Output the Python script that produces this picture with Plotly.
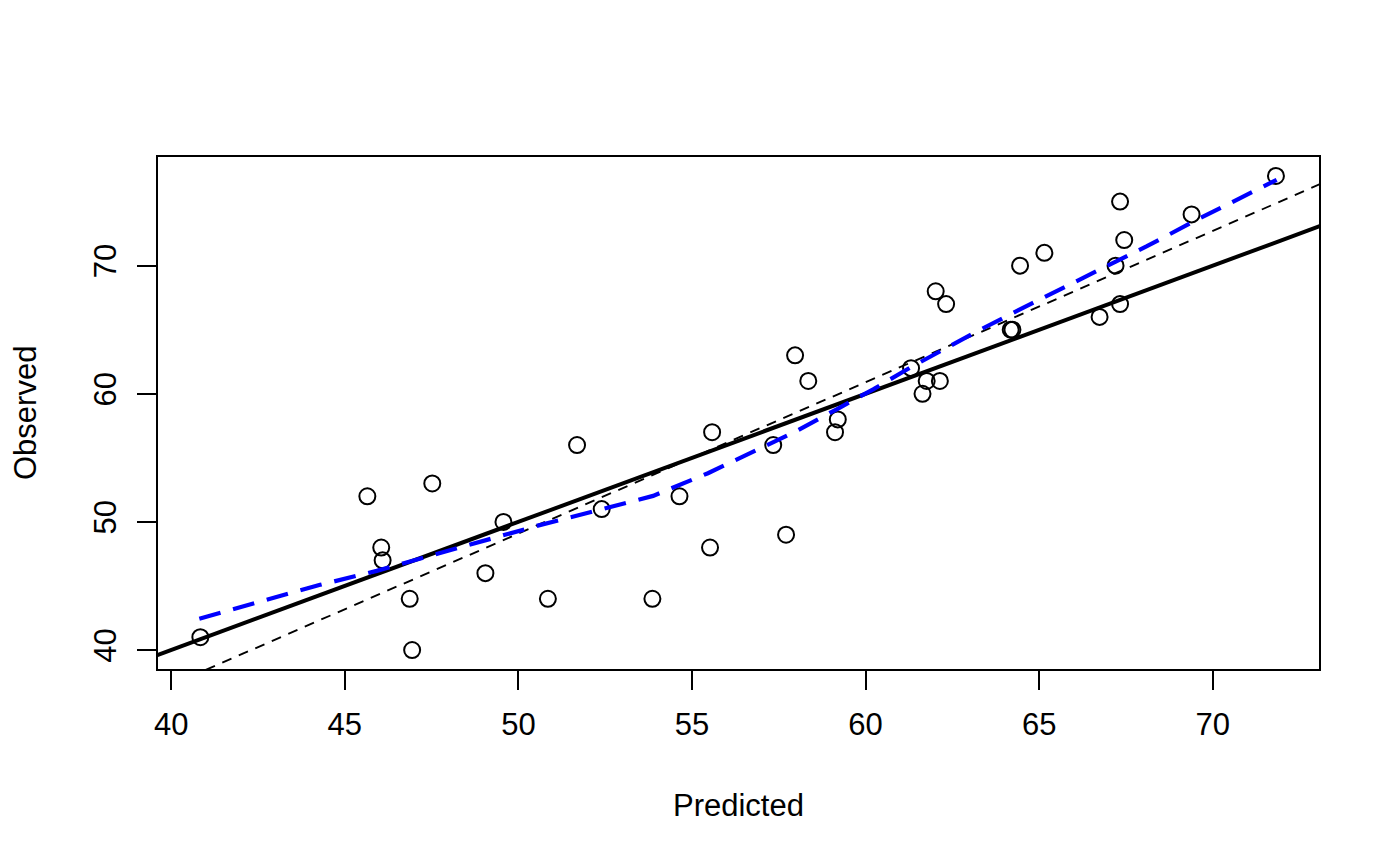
import numpy as np
import plotly.graph_objects as go

# observed vs predicted values
predicted = [40.84, 45.65, 46.05, 46.09, 46.87, 46.94, 47.52, 49.05, 49.57, 50.85,
             51.69, 52.40, 53.86, 54.64, 55.52, 55.58, 57.34, 57.71, 57.97, 58.35,
             59.12, 59.20, 61.31, 61.64, 61.76, 62.02, 62.14, 62.32, 64.18, 64.23,
             64.45, 65.15, 66.74, 67.20, 67.33, 67.33, 67.45, 69.39, 71.82]
observed = [41, 52, 48, 47, 44, 40, 53, 46, 50, 44,
            56, 51, 44, 52, 48, 57, 56, 49, 63, 61,
            57, 58, 62, 60, 61, 68, 61, 67, 65, 65,
            70, 71, 66, 70, 75, 67, 72, 74, 77]

# smooth (lowess) curve
smooth_x = [40.81, 44.29, 45.92, 47.46, 49.09, 50.53, 52.40, 53.88, 55.46, 56.67,
            57.92, 59.17, 60.22, 61.28, 63.30, 64.82, 66.46, 68.09, 69.63, 71.84]
smooth_y = [42.45, 45.09, 46.18, 47.35, 48.65, 49.69, 50.99, 52.03, 53.80, 55.36,
            56.97, 58.79, 60.35, 62.04, 65.0, 67.1, 69.3, 71.5, 73.7, 76.7]

x_range = [39.62, 73.06]
y_range = [38.52, 78.48]
x_ticks = [40, 45, 50, 55, 60, 65, 70]
y_ticks = [40, 50, 60, 70]

FONT = 'Liberation Sans, Arial, Helvetica, sans-serif'

# least squares fit of observed on predicted
slope, intercept = np.polyfit(predicted, observed, 1)
line_x = np.array([x_range[0] - 1, x_range[1] + 1])

fig = go.Figure()
fig.add_trace(go.Scatter(
    x=predicted, y=observed, mode='markers',
    marker=dict(symbol='circle-open', size=16, color='black', line=dict(width=2)),
    showlegend=False,
))
# identity line
fig.add_trace(go.Scatter(
    x=line_x, y=line_x, mode='lines',
    line=dict(color='black', width=4), showlegend=False,
))
# fitted regression line
fig.add_trace(go.Scatter(
    x=line_x, y=intercept + slope * line_x, mode='lines',
    line=dict(color='black', width=1.9, dash='10px,8px'), showlegend=False,
))
fig.add_trace(go.Scatter(
    x=smooth_x, y=smooth_y, mode='lines',
    line=dict(color='#0000ff', width=4.2, dash='22px,13px'), showlegend=False,
))

axis_style = dict(
    showline=True, linecolor='black', linewidth=2, mirror=True,
    ticks='outside', ticklen=19, tickwidth=2, tickcolor='black',
    showgrid=False, zeroline=False,
    tickfont=dict(family=FONT, size=31, color='black'),
)

# page body has an 8px margin, so the plot box is offset to match the reference
fig.update_layout(
    width=1400, height=866,
    margin=dict(l=150, r=89, t=149, b=205),
    paper_bgcolor='white', plot_bgcolor='white',
    font=dict(family=FONT, size=31, color='black'),
    xaxis=dict(range=x_range, tickmode='array', tickvals=x_ticks,
               ticklabelstandoff=8, **axis_style),
    yaxis=dict(range=y_range, tickmode='array', tickvals=y_ticks,
               tickangle=-90, ticklabelstandoff=9, **axis_style),
    annotations=[
        dict(text='Predicted', xref='paper', yref='paper', x=0.5, y=0,
             xanchor='center', yanchor='middle', yshift=-136, showarrow=False,
             font=dict(family=FONT, size=31, color='black')),
        dict(text='Observed', xref='paper', yref='paper', x=0, y=0.5,
             xanchor='center', yanchor='middle', xshift=-133, textangle=-90,
             showarrow=False, font=dict(family=FONT, size=31, color='black')),
    ],
)

fig.write_html("out.html")
